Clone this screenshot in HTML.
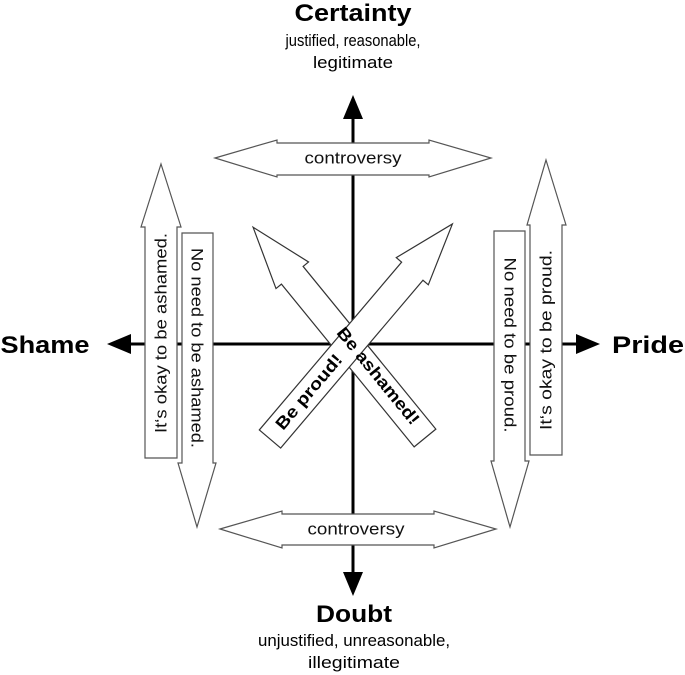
<!DOCTYPE html>
<html><head><style>body{margin:0;background:#fff}svg{display:block}</style></head><body>
<svg width="685" height="675" viewBox="0 0 685 675" xmlns="http://www.w3.org/2000/svg" font-family="Liberation Sans, sans-serif">
<rect width="685" height="675" fill="#fff"/>
<line x1="353" y1="115" x2="353" y2="572" stroke="#000" stroke-width="3"/>
<polygon points="353,95 343,119 363,119" fill="#000"/>
<polygon points="353,596 343,572 363,572" fill="#000"/>
<line x1="128" y1="344" x2="580" y2="344" stroke="#000" stroke-width="3"/>
<polygon points="107,344 131,334 131,354" fill="#000"/>
<polygon points="600,344 576,334 576,354" fill="#000"/>
<g fill="#fff" stroke="#555" stroke-width="1.2">
<polygon points="215,158 277,140 277,143 429,143 429,140 491,158 429,177 429,175 277,175 277,177"/>
<polygon points="220,529 282,511 282,514 434,514 434,511 496,529 434,548 434,545 282,545 282,548"/>
<polygon points="161,164 181,227 177,227 177,458 145,458 145,227 141,227"/>
<polygon points="197,527 216,463 213,463 213,233 182,233 182,463 178,463"/>
<polygon points="510,527 529,461 525,461 525,231 494,231 494,461 491,461"/>
<polygon points="546,160 566,225 562,225 562,455 530,455 530,225 527,225"/>
</g>
<g fill="#fff" stroke="#333" stroke-width="1.2">
<g transform="translate(425,438) rotate(-129.2)">
<polygon points="0,-14 210,-14 210,-21 272,0 210,21 210,14 0,14"/>
</g>
<g transform="translate(270,439) rotate(-49.7)">
<polygon points="0,-14 220,-14 220,-21 282,0 220,21 220,14 0,14"/>
</g>
</g>
<g font-weight="bold" font-size="17" text-anchor="middle" dominant-baseline="central">
<text transform="translate(309,392) rotate(-49.7)" textLength="93" lengthAdjust="spacingAndGlyphs">Be proud!</text>
<text transform="translate(378,376) rotate(50.8)" textLength="120" lengthAdjust="spacingAndGlyphs">Be ashamed!</text>
</g>
<g font-size="17" text-anchor="middle" dominant-baseline="central" fill="#111">
<text x="353" y="158" textLength="97" lengthAdjust="spacingAndGlyphs">controversy</text>
<text x="356" y="529" textLength="97" lengthAdjust="spacingAndGlyphs">controversy</text>
<text transform="translate(161,333) rotate(-90)" textLength="200" lengthAdjust="spacingAndGlyphs">It‘s okay to be ashamed.</text>
<text transform="translate(197,348) rotate(90)" textLength="200" lengthAdjust="spacingAndGlyphs">No need to be ashamed.</text>
<text transform="translate(510,345) rotate(90)" textLength="175" lengthAdjust="spacingAndGlyphs">No need to be proud.</text>
<text transform="translate(546,340) rotate(-90)" textLength="180" lengthAdjust="spacingAndGlyphs">It‘s okay to be proud.</text>
</g>
<g text-anchor="middle" fill="#000">
<text x="353" y="21" font-size="24" font-weight="bold" textLength="117" lengthAdjust="spacingAndGlyphs">Certainty</text>
<text x="353" y="46" font-size="17" textLength="135" lengthAdjust="spacingAndGlyphs">justified, reasonable,</text>
<text x="353" y="68" font-size="17" textLength="80" lengthAdjust="spacingAndGlyphs">legitimate</text>
<text x="354" y="622" font-size="24" font-weight="bold" textLength="76" lengthAdjust="spacingAndGlyphs">Doubt</text>
<text x="354" y="646" font-size="17" textLength="192" lengthAdjust="spacingAndGlyphs">unjustified, unreasonable,</text>
<text x="354" y="668" font-size="17" textLength="92" lengthAdjust="spacingAndGlyphs">illegitimate</text>
<text x="45" y="353" font-size="24" font-weight="bold" textLength="89" lengthAdjust="spacingAndGlyphs">Shame</text>
<text x="648" y="353" font-size="24" font-weight="bold" textLength="72" lengthAdjust="spacingAndGlyphs">Pride</text>
</g>
</svg>
</body></html>
